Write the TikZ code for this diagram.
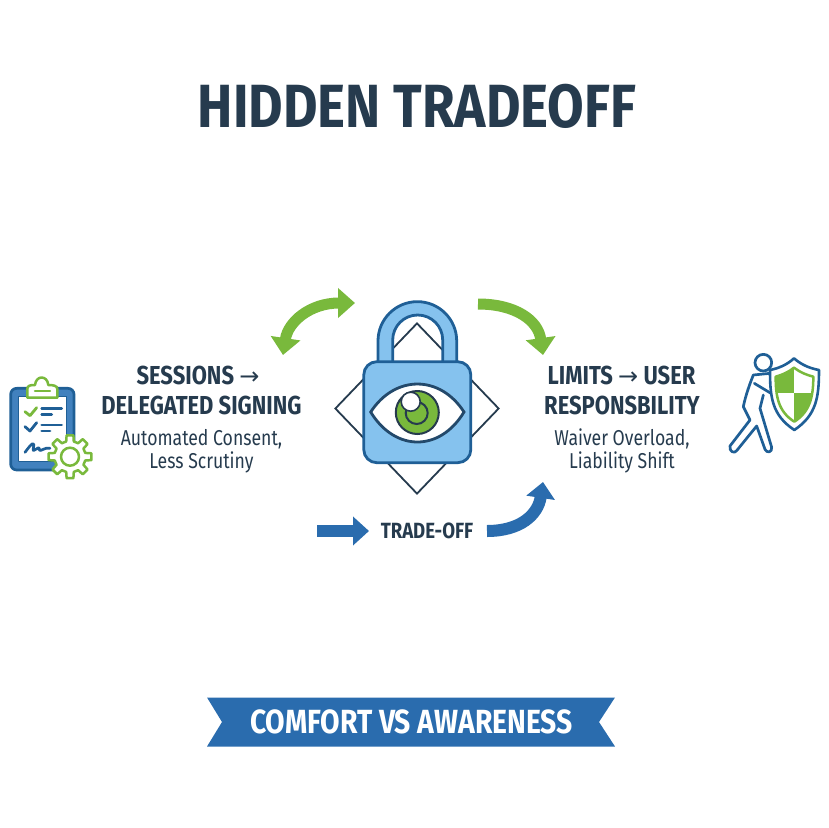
\documentclass[tikz,border=0pt]{standalone}
\usepackage{fontspec}
\usepackage{xcolor}
\usetikzlibrary{arrows.meta, positioning, shapes.geometric}
\newfontfamily\titlefont[FakeStretch=0.87]{Fira Sans}
\newfontfamily\headfont[FakeStretch=0.845]{Fira Sans}
\newfontfamily\plainfont[FakeStretch=0.82]{Fira Sans}
\newfontfamily\arrowfont{DejaVu Sans}
\newcommand{\thinarrow}{{\arrowfont\mdseries\fontsize{24}{28}\selectfont →}}
\definecolor{inkblue}{HTML}{263B4E}
\definecolor{lineblue}{HTML}{1F5F96}
\definecolor{skyblue}{HTML}{85C2EE}
\definecolor{ribbonblue}{HTML}{2A6CAE}
\definecolor{leafgreen}{HTML}{79B93C}

\begin{document}
\begin{tikzpicture}[
    x=1pt, y=-1pt,
    node distance=6pt and 20pt,
    headline/.style={font=\headfont\bfseries\fontsize{26}{28}\selectfont, text=inkblue, inner sep=0pt, text height=18pt, text depth=3pt},
    subline/.style={font=\plainfont\fontsize{21.5}{24}\selectfont, text=inkblue, inner sep=0pt, text height=15pt, text depth=4pt},
    greenarrow/.style={>={Triangle[length=17pt, width=29pt]}, line width=11pt, draw=leafgreen},
    bluearrow/.style={-{Triangle[length=16pt, width=28pt]}, line width=12pt, draw=ribbonblue},
    lockline/.style={draw=lineblue, line width=2.8pt},
    iconline/.style={draw=lineblue, line width=2.7pt, line cap=round, line join=round},
    leafline/.style={draw=leafgreen, line width=2.5pt, line cap=round, line join=round},
]
\useasboundingbox (0,0) rectangle (828,828);

% Title and ribbon
\node[font=\titlefont\bfseries\fontsize{61}{66}\selectfont, text=inkblue, inner sep=0pt] (title) at (417,106) {HIDDEN TRADEOFF};
\fill[ribbonblue] (207,697.5) -- (615,697.5) -- (599,722) -- (615,746.5) -- (207,746.5) -- (222,722) -- cycle;
\node[font=\headfont\bfseries\fontsize{33.5}{36}\selectfont, text=white, inner sep=0pt] (ribbon) at (411.5,722) {COMFORT VS AWARENESS};

% Lock
\node[diamond, draw=inkblue, line width=1.8pt, fill=white, inner sep=0pt, aspect=0.96, minimum width=164pt, minimum height=171pt] (watch) at (417,408.5) {};
\draw[lockline, fill=skyblue] (378,365) -- (378,341) arc (180:360:39.35) -- (456.7,365) -- (442.7,365) -- (442.7,340) arc (0:-180:25) -- (392.7,365) -- cycle;
\node[lockline, fill=skyblue, rectangle, rounded corners=13pt, inner sep=0pt, minimum width=107pt, minimum height=101pt] (lockbody) at (417.3,412.2) {};
\draw[lockline, fill=white, draw=inkblue!60!lineblue] (370.7,412) .. controls (395,374.7) and (440,374.7) .. (464,412) .. controls (440,452) and (395,452) .. cycle;
\node[circle, draw=inkblue, line width=2pt, fill=leafgreen, inner sep=0pt, minimum size=43pt] (iris) at (417.3,412.5) {};
\node[circle, draw=inkblue, line width=2pt, inner sep=0pt, minimum size=22pt] (pupil) at (416.7,413) {};
\node[circle, draw=inkblue, line width=1.6pt, fill=white, inner sep=0pt, minimum size=19pt] (glint) at (410.7,401.7) {};

% Left text
\node[headline] (sessions) at (198,376.5) {SESSIONS \thinarrow};
\node[headline] (signing) at (201.5,406.5) {DELEGATED SIGNING};
\node[subline, below=13pt of signing] (consent) {Automated Consent,};
\node[subline, below=4pt of consent] (scrutiny) {Less Scrutiny};

% Right text
\node[headline] (limits) at (621.5,376.5) {LIMITS \thinarrow{} USER};
\node[headline] (respons) at (622,406.5) {RESPONSBILITY};
\node[subline, below=13pt of respons] (waiver) {Waiver Overload,};
\node[subline, below=4pt of waiver] (liability) {Liability Shift};

% Arrows
\node[headline, font=\headfont\bfseries\fontsize{22}{24}\selectfont] (tradeoff) at (427,531) {TRADE-OFF};
\coordinate (greenA) at (283,355);
\coordinate (greenB) at (355,303);
\coordinate (greenC) at (478,304);
\coordinate (greenD) at (543,355);
\coordinate (blueA) at (317,531);
\coordinate (blueB) at (369,531);
\coordinate (blueC) at (487,531);
\coordinate (blueD) at (543,482);
\draw[greenarrow, <->] (greenA) .. controls (288,322) and (310,303) .. (greenB);
\draw[greenarrow, ->] (greenC) .. controls (515,304) and (538,320) .. (greenD);
\draw[bluearrow] (blueA) -- (blueB);
\draw[bluearrow] (blueC) .. controls (520,531) and (538,515) .. (blueD);

% Clipboard
\begin{scope}[shift={(0,365)}, scale=1/3]
\draw[iconline, fill=ribbonblue!75!skyblue, rounded corners=6pt] (32,70) rectangle (222,315);
\draw[iconline, fill=white, line width=1.2pt] (55,95) rectangle (200,290);
\draw[leafline, fill=white] (82,98) -- (82,72) .. controls (82,62) and (90,60) .. (105,60) .. controls (108,30) and (142,30) .. (145,60) .. controls (160,60) and (172,62) .. (172,72) -- (172,98) -- cycle;
\draw[leafline] (105,78) -- (150,78);
\draw[leafline, line width=2.8pt] (75,140) -- (90,152) -- (110,128);
\draw[iconline, line width=2.8pt] (75,185) -- (90,198) -- (110,173);
\draw[iconline] (125,130) -- (185,130) (125,148) -- (155,148) (125,180) -- (185,180) (125,198) -- (150,198);
\draw[iconline] (75,262) .. controls (95,235) and (105,225) .. (100,250) .. controls (95,270) and (120,235) .. (118,255) .. controls (120,262) and (135,245) .. (150,250);
\end{scope}
\begin{scope}[shift={(70,456.7)}]
\draw[leafline, fill=white] (-14:15.7) \foreach \a in {0,45,...,315} { -- (\a-14:15.7) -- (\a-9:21.7) -- (\a+9:21.7) -- (\a+14:15.7) } -- cycle;
\draw[leafline] (0,0) circle (9);
\end{scope}

% Person with shield
\begin{scope}[shift={(715,340)}, scale=1/3]
\draw[iconline, fill=white] (145,68) circle (25);
\draw[iconline] (165,100) -- (115,105) .. controls (105,130) and (92,165) .. (85,200) -- (105,240) -- (45,318) .. controls (42,335) and (58,342) .. (65,332) -- (125,258) -- (150,328) .. controls (155,340) and (172,338) .. (170,322) -- (135,205) -- (145,165);
\draw[iconline] (118,130) -- (168,160);
\draw[iconline, fill=white, line width=2.6pt] (237,55) .. controls (215,75) and (190,85) .. (165,90) .. controls (165,170) and (170,225) .. (238,270) .. controls (305,225) and (312,170) .. (312,90) .. controls (285,85) and (260,75) .. (237,55) -- cycle;
\begin{scope}
\clip (237,83) .. controls (220,97) and (200,105) .. (182,110) .. controls (182,170) and (190,215) .. (238,245) .. controls (285,215) and (295,170) .. (295,110) .. controls (275,105) and (255,97) .. (237,83) -- cycle;
\fill[leafgreen] (170,70) rectangle (237,160);
\fill[leafgreen] (237,160) rectangle (305,255);
\end{scope}
\draw[leafline] (237,83) .. controls (220,97) and (200,105) .. (182,110) .. controls (182,170) and (190,215) .. (238,245) .. controls (285,215) and (295,170) .. (295,110) .. controls (275,105) and (255,97) .. (237,83) -- cycle;
\end{scope}

\end{tikzpicture}
\end{document}
